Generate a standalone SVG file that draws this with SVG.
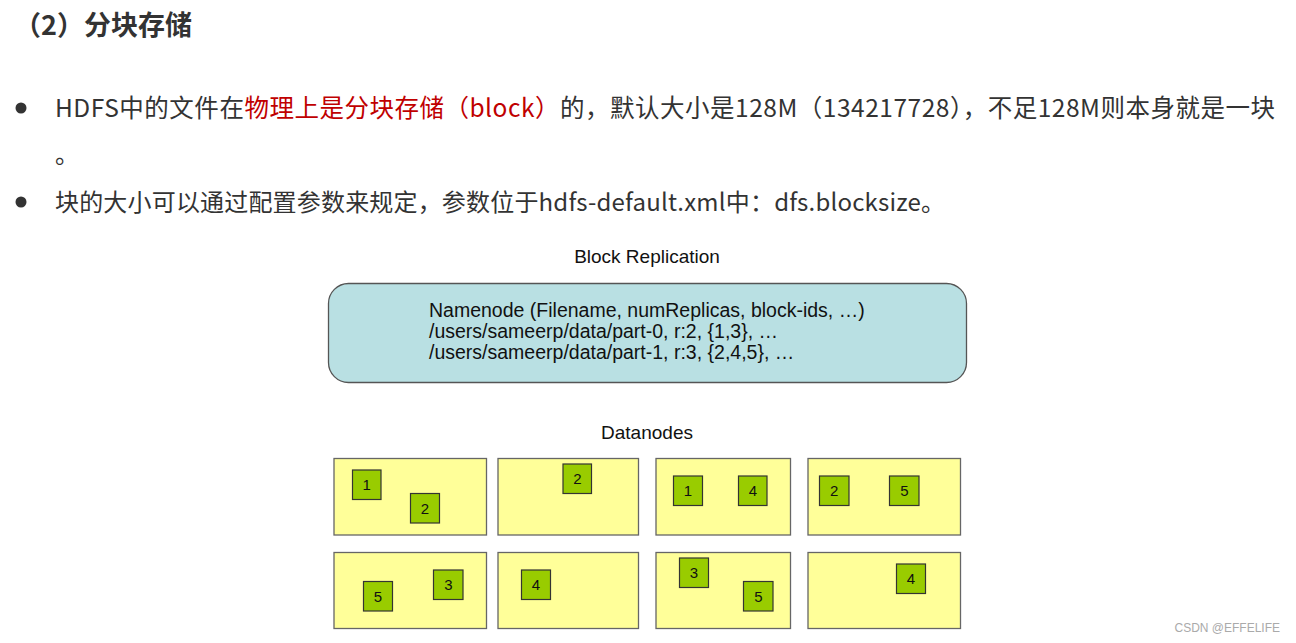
<svg xmlns="http://www.w3.org/2000/svg" width="1296" height="643" viewBox="0 0 1296 643">
<style>
.cn{font-family:"Noto Sans CJK SC","Noto Sans",sans-serif;fill:#333;}
.t{font-family:"Liberation Sans",Arial,sans-serif;fill:#111;}
.dn{fill:#ffff99;stroke:#666;stroke-width:1.3;}
.blk{fill:#99cc00;stroke:#333;stroke-width:1.2;}
.bn{font-family:"Liberation Sans",Arial,sans-serif;font-size:15px;fill:#111;text-anchor:middle;}
</style>
<rect width="1296" height="643" fill="#fff"/>
<text class="cn" x="14" y="35" font-size="27" font-weight="bold">（2）分块存储</text>
<g id="bullets">
<circle cx="21" cy="108" r="5.5" fill="#333"/>
<text class="cn" x="55" y="117" font-size="24.5" textLength="1220" lengthAdjust="spacing">HDFS中的文件在<tspan fill="#c00000">物理上是分块存储（block）</tspan>的，默认大小是128M（134217728），不足128M则本身就是一块</text>
<text class="cn" x="55" y="163" font-size="24">。</text>
<circle cx="21" cy="202" r="5.5" fill="#333"/>
<text class="cn" x="55" y="211" font-size="24" textLength="890" lengthAdjust="spacing">块的大小可以通过配置参数来规定，参数位于hdfs-default.xml中：dfs.blocksize。</text>
</g>
<text class="t" x="647" y="263" font-size="19" text-anchor="middle">Block Replication</text>
<g id="namenode">
<rect x="328.5" y="283.5" width="638" height="99" rx="20" fill="#b9e0e3" stroke="#555" stroke-width="1.3"/>
<text class="t" x="429" y="317" font-size="19.5">Namenode (Filename, numReplicas, block-ids, …)</text>
<text class="t" x="429" y="338" font-size="19.5">/users/sameerp/data/part-0, r:2, {1,3}, …</text>
<text class="t" x="429" y="359" font-size="19.5">/users/sameerp/data/part-1, r:3, {2,4,5}, …</text>
</g>
<text class="t" x="647" y="439" font-size="19" text-anchor="middle">Datanodes</text>
<g id="datanode1">
<rect class="dn" x="334" y="458.5" width="152.5" height="76.5"/>
<rect class="blk" x="352.5" y="470" width="28.5" height="29.5"/><text class="bn" x="366.7" y="490">1</text>
<rect class="blk" x="410.5" y="493.5" width="29" height="29.5"/><text class="bn" x="425" y="513.5">2</text>
</g>
<g id="datanode2">
<rect class="dn" x="498" y="458.5" width="140.5" height="76.5"/>
<rect class="blk" x="563" y="464" width="28.5" height="29.5"/><text class="bn" x="577.3" y="484">2</text>
</g>
<g id="datanode3">
<rect class="dn" x="656" y="458.5" width="134.5" height="76.5"/>
<rect class="blk" x="673.5" y="476" width="29" height="29.5"/><text class="bn" x="688" y="496">1</text>
<rect class="blk" x="738.5" y="476" width="28.5" height="29.5"/><text class="bn" x="752.8" y="496">4</text>
</g>
<g id="datanode4">
<rect class="dn" x="808" y="458.5" width="152.5" height="76.5"/>
<rect class="blk" x="819.5" y="476" width="29.5" height="29.5"/><text class="bn" x="834.2" y="496">2</text>
<rect class="blk" x="889.5" y="476" width="29.5" height="29.5"/><text class="bn" x="904.3" y="496">5</text>
</g>
<g id="datanode5">
<rect class="dn" x="334" y="552.5" width="152.5" height="76"/>
<rect class="blk" x="363.5" y="581.5" width="29" height="29.5"/><text class="bn" x="378" y="601.5">5</text>
<rect class="blk" x="433.5" y="570" width="29.5" height="29.5"/><text class="bn" x="448.3" y="590">3</text>
</g>
<g id="datanode6">
<rect class="dn" x="498" y="552.5" width="140.5" height="76"/>
<rect class="blk" x="521.5" y="570" width="29" height="29.5"/><text class="bn" x="536" y="590">4</text>
</g>
<g id="datanode7">
<rect class="dn" x="656" y="552.5" width="134.5" height="76"/>
<rect class="blk" x="679.5" y="558" width="29" height="29.5"/><text class="bn" x="694" y="578">3</text>
<rect class="blk" x="743.5" y="581.5" width="29.5" height="29.5"/><text class="bn" x="758.3" y="601.5">5</text>
</g>
<g id="datanode8">
<rect class="dn" x="808" y="552.5" width="152.5" height="76"/>
<rect class="blk" x="896.5" y="564" width="29" height="29.5"/><text class="bn" x="911" y="584">4</text>
</g>
<g id="connectors"></g>
<text x="1280" y="632" font-family="Liberation Sans,Arial,sans-serif" font-size="12" fill="#aaa" text-anchor="end">CSDN @EFFELIFE</text>
</svg>
